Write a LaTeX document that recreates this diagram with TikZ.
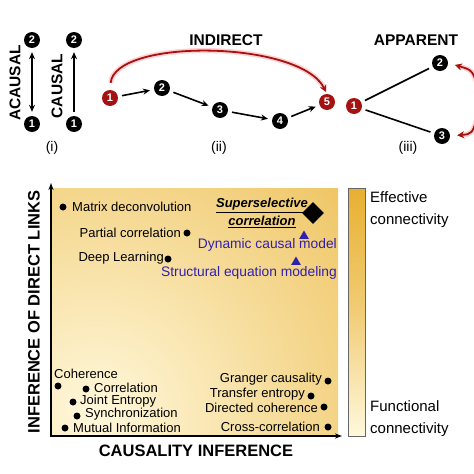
\documentclass[tikz,border=0pt]{standalone}
\usepackage{fontspec}
\setmainfont{Liberation Sans}
\usetikzlibrary{shapes.geometric,arrows.meta,calc}
\definecolor{gold}{RGB}{232,176,50}
\definecolor{cream}{RGB}{255,248,220}
\definecolor{dred}{RGB}{165,18,18}
\definecolor{bluetxt}{RGB}{48,32,176}
\begin{document}
\begin{tikzpicture}[x=1pt,y=-1pt,
  num/.style={circle,fill=black,inner sep=0pt,minimum size=16pt,text=white,font=\fontsize{11}{11}\selectfont\bfseries},
  rnum/.style={num,fill=dred},
  blk/.style={-{Stealth[length=7pt,width=6pt]},line width=1.6pt,shorten >=4pt,shorten <=4pt},
  blkd/.style={{Stealth[length=7pt,width=6pt]}-{Stealth[length=7pt,width=6pt]},line width=1.6pt,shorten >=4pt,shorten <=4pt},
  pline/.style={line width=1.6pt,shorten >=4pt,shorten <=4pt},
  glow/.style={preaction={draw=red!60,line width=5pt,opacity=0.3}},
  redarr/.style={draw=dred,line width=1.8pt,-{Stealth[length=7pt,width=7pt]},glow},
  dot/.style={circle,fill=black,inner sep=0pt,minimum size=7pt},
  tri/.style={regular polygon,regular polygon sides=3,fill=bluetxt,inner sep=0pt,minimum size=11pt},
  item/.style={font=\fontsize{13}{15}\selectfont,inner sep=0pt},
  bitem/.style={inner sep=0pt,font=\fontsize{13.8}{16}\selectfont,text=bluetxt},
  ttl/.style={font=\fontsize{15.5}{17}\selectfont\bfseries,inner sep=0pt},
  sublab/.style={font=\fontsize{14}{16}\selectfont,inner sep=0pt},
  leg/.style={font=\fontsize{15}{18}\selectfont,inner sep=0pt,anchor=west},
  axlab/.style={font=\fontsize{16.5}{18}\selectfont\bfseries,inner sep=0pt},
  axis/.style={line width=1.5pt,-{Stealth[length=7pt,width=5pt]}}
]
\useasboundingbox (0,0) rectangle (474,474);

% ---------- panel (i)
\node[num] (a2) at (32,40) {2};
\node[num] (a1) at (32,124) {1};
\draw[blkd] (a1) -- (a2);
\node[ttl,rotate=90] (acausal) at (15,83) {ACAUSAL};
\node[num] (b2) at (74,40) {2};
\node[num] (b1) at (74,124) {1};
\draw[blk] (b1) -- (b2);
\node[ttl,rotate=90] (causal) at (57,86) {CAUSAL};
\node[sublab] (ci) at (52,148) {(i)};

% ---------- panel (ii)
\node[rnum] (i1) at (110,98) {1};
\node[num] (i2) at (162,88) {2};
\node[num] (i3) at (220,110) {3};
\node[num] (i4) at (280,121) {4};
\node[rnum] (i5) at (327,102) {5};
\draw[blk] (i1) -- (i2);
\draw[blk] (i2) -- (i3);
\draw[blk] (i3) -- (i4);
\draw[blk] (i4) -- (i5);
\draw[redarr,shorten <=7pt,shorten >=2pt] (i1.north) .. controls (115,38) and (300,40) .. (i5.north);
\node[ttl] (tind) at (226,40) {INDIRECT};
\node[sublab] (cii) at (219,148) {(ii)};

% ---------- panel (iii)
\node[rnum] (j1) at (354,106) {1};
\node[num] (j2) at (440,63) {2};
\node[num] (j3) at (442,136) {3};
\draw[pline] (j1) -- (j2);
\draw[pline] (j1) -- (j3);
\coordinate (e2) at (478,86);
\coordinate (e3) at (478,116);
\draw[redarr,shorten >=7pt] (e2) .. controls (472,70) .. (j2.east);
\draw[redarr,shorten >=7pt] (e3) .. controls (472,134) .. (j3.east);
\node[ttl] (tapp) at (416,40) {APPARENT};
\node[sublab] (ciii) at (408,148) {(iii)};

% ---------- panel b: plot
\fill[gold] (52,188) rectangle (338,436);
\begin{scope}
  \clip (52,188) rectangle (338,436);
  \shade[inner color=cream,outer color=gold] (95,415) circle (480);
\end{scope}
\coordinate (o) at (51,437);
\coordinate (ytop) at (51,183);
\coordinate (xo) at (50,436);
\coordinate (xend) at (342,436);
\draw[axis] (o) -- (ytop);
\draw[axis] (xo) -- (xend);
\node[axlab,rotate=90] (ylab) at (34,312) {INFERENCE OF DIRECT LINKS};
\node[axlab] (xlab) at (196,451) {CAUSALITY INFERENCE};

% top items
\node[dot] (dmd) at (63,207) {};
\node[item,anchor=west] (tmd) at (72,207) {Matrix deconvolution};
\node[dot] (dpc) at (187,233) {};
\node[item,anchor=east] (tpc) at (181,233) {Partial correlation};
\node[dot] (ddl) at (168,259) {};
\node[item,anchor=east] (tdl) at (164,258) {Deep Learning};
\node[font=\fontsize{13}{18}\selectfont\bfseries\itshape,align=center,inner sep=0pt] (tss) at (262,213) {\underline{Superselective}\\\underline{correlation}};
\node[diamond,fill=black,minimum size=22pt,inner sep=0pt] (dss) at (313,213) {};
\node[tri] (tdcm) at (304,236) {};
\node[bitem,anchor=east] (ldcm) at (337,245) {Dynamic causal model};
\node[tri] (tsem) at (296,262) {};
\node[bitem,anchor=east] (lsem) at (337,273) {Structural equation modeling};

% bottom-left items
\node[item,anchor=west] (tcoh) at (54,374) {Coherence};
\node[dot] (dcoh) at (58,386) {};
\node[dot] (dcor) at (86,389) {};
\node[item,anchor=west] (tcor) at (94,388) {Correlation};
\node[dot] (dje) at (73,402) {};
\node[item,anchor=west] (tje) at (80,401) {Joint Entropy};
\node[dot] (dsy) at (77,416) {};
\node[item,anchor=west] (tsy) at (85,414) {Synchronization};
\node[dot] (dmi) at (65,428) {};
\node[item,anchor=west] (tmi) at (73,428) {Mutual Information};

% bottom-right items
\node[item,anchor=east] (tgc) at (322,379) {Granger causality};
\node[dot] (dgc) at (328,381) {};
\node[item,anchor=east] (tte) at (305,394) {Transfer entropy};
\node[dot] (dte) at (311,396) {};
\node[item,anchor=east] (tdc) at (318,408) {Directed coherence};
\node[dot] (ddc) at (324,407) {};
\node[item,anchor=east] (tcc) at (320,427) {Cross-correlation};
\node[dot] (dcc) at (328,427) {};

% colour bar
\shade[top color=gold,bottom color=cream,middle color=gold!60!cream] (348,188) rectangle (365,436);
\draw[black!60,line width=1pt] (348,188) rectangle (365,436);
\node[leg] (eff1) at (370,197) {Effective};
\node[leg] (eff2) at (370,221) {connectivity};
\node[leg] (fun1) at (370,406) {Functional};
\node[leg] (fun2) at (370,430) {connectivity};
\end{tikzpicture}
\end{document}
